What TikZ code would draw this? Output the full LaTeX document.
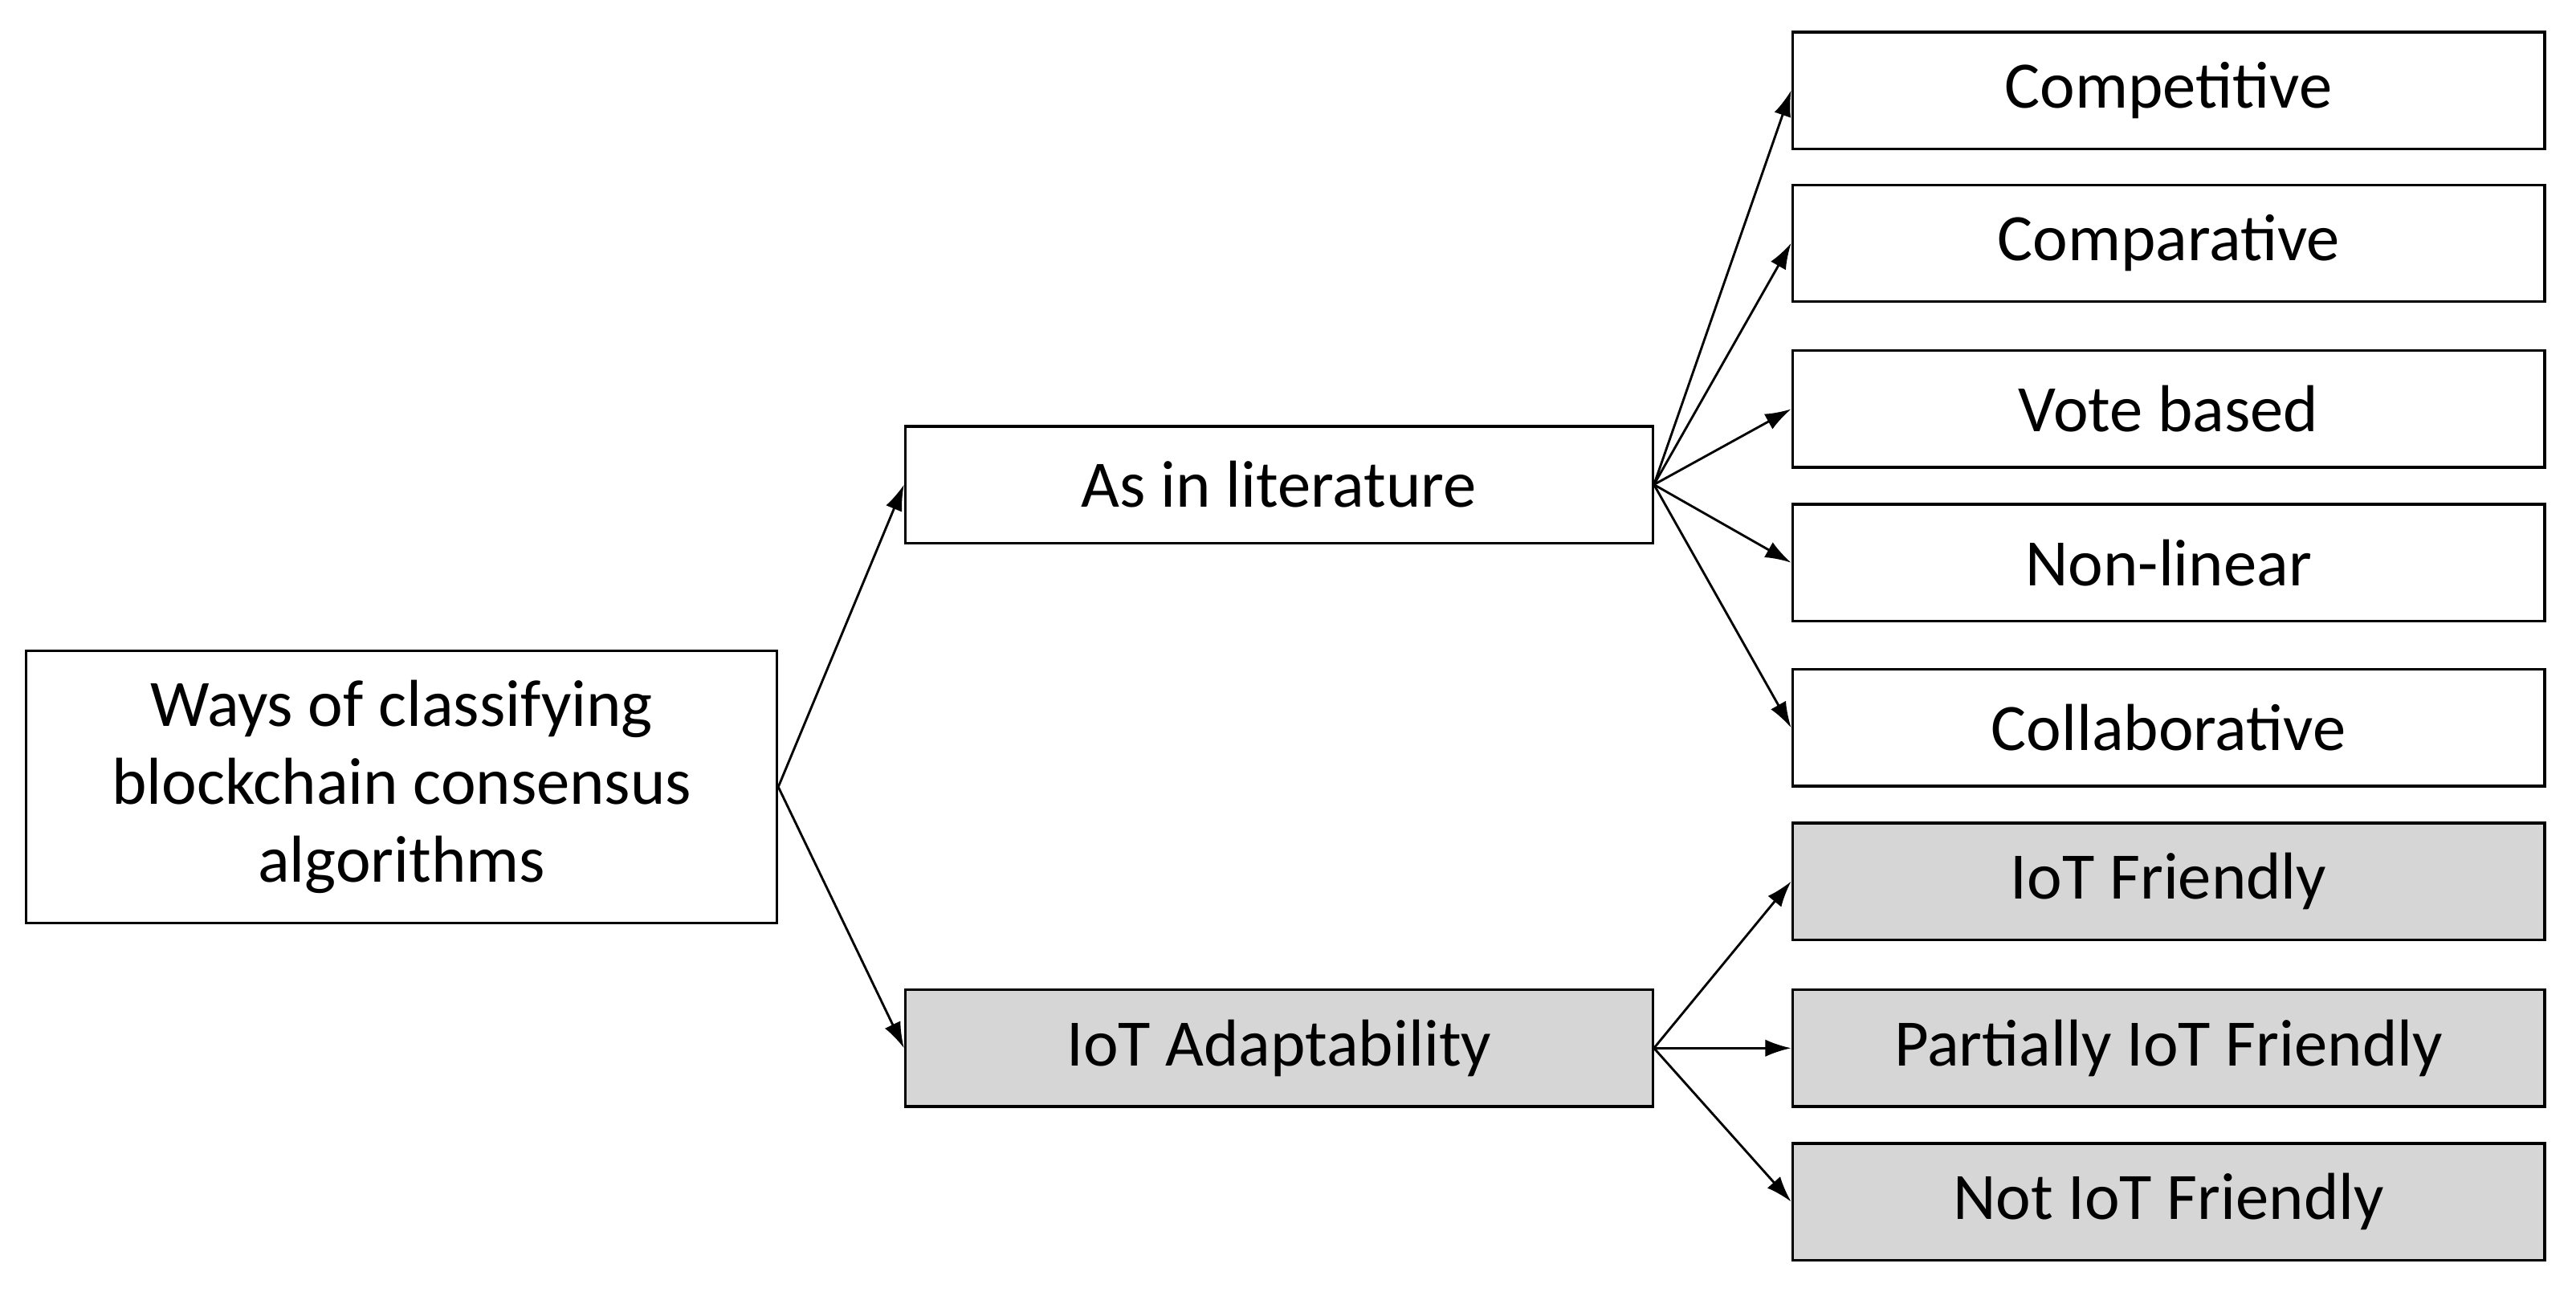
\documentclass[tikz,border=0pt]{standalone}
\usepackage{fontspec}
\setmainfont{Carlito}
\usetikzlibrary{arrows.meta}
\begin{document}
\begin{tikzpicture}[x=0.02cm,y=-0.02cm,
 box/.style={draw,line width=0.9pt,inner sep=0pt,font=\fontsize{23}{27}\selectfont,align=center},
 wide/.style={box,minimum width=455\pgflinewidth*0+9.1cm,minimum height=1.42cm},
 leaf/.style={box,minimum width=9.16cm,minimum height=1.42cm},
 gr/.style={fill=black!16},
 arr/.style={-{Latex[length=9pt,width=6pt]},line width=0.8pt}]
\useasboundingbox (0,0) rectangle (1568,786);
\node[box,minimum width=9.14cm,minimum height=3.32cm] (root) at (244.5,479) {Ways of classifying\\blockchain consensus\\algorithms};
\node[wide] (lit) at (778.5,295) {As in literature};
\node[wide,gr] (iot) at (778.5,638) {IoT Adaptability};
\node[leaf] (c1) at (1320,55) {Competitive};
\node[leaf] (c2) at (1320,148) {Comparative};
\node[leaf] (c3) at (1320,249) {Vote based};
\node[leaf] (c4) at (1320,342.5) {Non-linear};
\node[leaf] (c5) at (1320,443) {Collaborative};
\node[leaf,gr] (i1) at (1320,536.5) {IoT Friendly};
\node[leaf,gr] (i2) at (1320,638) {Partially IoT Friendly};
\node[leaf,gr] (i3) at (1320,731.5) {Not IoT Friendly};
\draw[arr] (root.east) -- (lit.west);
\draw[arr] (root.east) -- (iot.west);
\foreach \n in {c1,c2,c3,c4,c5} \draw[arr] (lit.east) -- (\n.west);
\foreach \n in {i1,i2,i3} \draw[arr] (iot.east) -- (\n.west);
\end{tikzpicture}
\end{document}
